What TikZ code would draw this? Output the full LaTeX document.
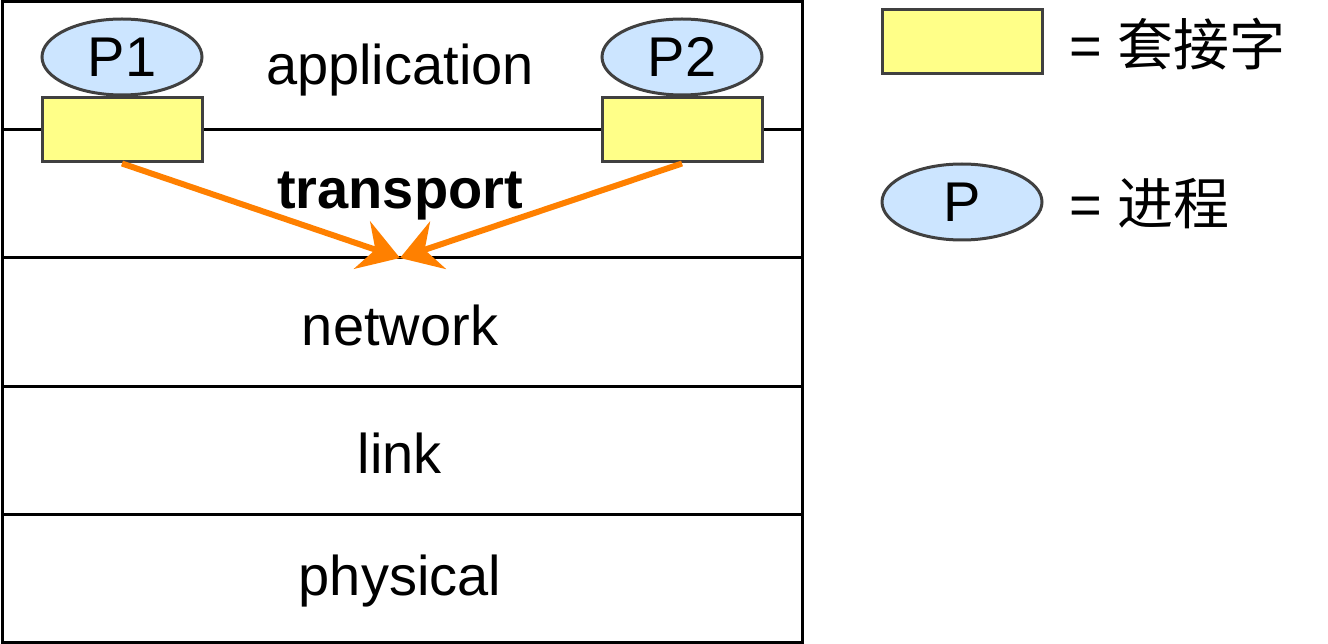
\documentclass[tikz,border=0pt]{standalone}
\usepackage{fontspec}
\setmainfont{Liberation Sans}
\newfontfamily\cjk{Noto Sans CJK SC}
\usetikzlibrary{arrows.meta,shapes.geometric}
\tikzset{
  layer/.style={draw,line width=3pt,minimum width=800pt,minimum height=128pt,inner sep=0pt,font=\fontsize{56}{64}\selectfont},
  proc/.style={draw=black!75,line width=3pt,ellipse,fill=procblue,minimum width=160pt,minimum height=76pt,inner sep=0pt,font=\fontsize{56}{64}\selectfont},
  sock/.style={draw=black!75,line width=3pt,fill=sockyellow,minimum width=160pt,minimum height=64pt,inner sep=0pt},
  legend/.style={anchor=west,font=\fontsize{56}{64}\selectfont},
  flow/.style={draw=flowor,line width=6pt,-{Stealth[length=40pt,width=50pt,inset=14pt]}}
}
\definecolor{procblue}{HTML}{CCE5FF}
\definecolor{sockyellow}{HTML}{FFFF88}
\definecolor{flowor}{HTML}{FF8000}
\begin{document}
\begin{tikzpicture}[x=1pt,y=-1pt]
	\useasboundingbox (0,0) rectangle (1328,644);
	\node[layer] (app) at (402,66) {};
	\node[layer] (trans) at (402,194) {};
	\node[layer] (net) at (402,322) {};
	\node[layer] (link) at (402,450) {};
	\node[layer] (phy) at (402,578) {};
	\node[font=\fontsize{56}{64}\selectfont] (applbl) at (400,70) {application};
	\node[font=\fontsize{56}{64}\selectfont\bfseries] (translbl) at (400,196) {transport};
	\node[font=\fontsize{56}{64}\selectfont] (netlbl) at (400,325) {network};
	\node[font=\fontsize{56}{64}\selectfont] (linklbl) at (400,453) {link};
	\node[font=\fontsize{56}{64}\selectfont] (phylbl) at (400,581) {physical};

	\node[sock] (s1) at (122,130) {};
	\node[sock] (s2) at (682,130) {};
	\node[proc] (p1) at (122,57) {P1};
	\node[proc] (p2) at (682,57) {P2};
	\coordinate (tip) at (400,258);
	\draw[flow] (s1.south) -- (tip);
	\draw[flow] (s2.south) -- (tip);

	% legend
	\node[sock] (ls) at (962,42) {};
	\node[legend] at (1066,44) {= {\cjk 套接字}};
	\node[proc] (lp) at (962,202) {P};
	\node[legend] at (1066,204) {= {\cjk 进程}};
\end{tikzpicture}
\end{document}
